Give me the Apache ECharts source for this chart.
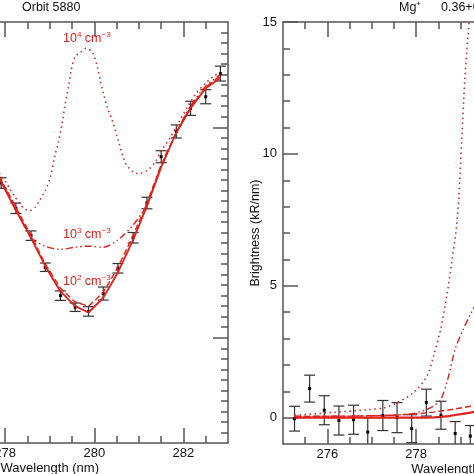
<!DOCTYPE html>
<html lang="en">
<head>
    <meta charset="UTF-8">
    <title>Orbit 5880</title>
    <script src="https://cdn.jsdelivr.net/npm/echarts@6/dist/echarts.min.js"></script>
    <style>
        html, body { margin: 0; padding: 0; background: #fff; }
        #main { width: 474px; height: 474px; }
    </style>
</head>
<body>
<div id="main"></div>
<script>
    // left panel: observed spectrum (arbitrary units, axis labels are cut off)
    var leftObsWl = [277.91, 278.24, 278.58, 278.9, 279.24, 279.57, 279.87, 280.2, 280.53, 280.87, 281.18, 281.5, 281.84, 282.16, 282.5, 282.83];
    var leftObs = [24.7, 22.3, 19.7, 16.7, 14.0, 12.9, 12.5, 14.2, 16.6, 19.5, 22.8, 27.2, 29.6, 31.8, 32.9, 35.1];
    var leftErr = [0.5, 0.5, 0.45, 0.4, 0.45, 0.4, 0.45, 0.62, 0.45, 0.5, 0.55, 0.57, 0.62, 0.67, 0.67, 0.71];

    // left panel: models
    var leftModelWl = [277.58, 277.91, 278.24, 278.58, 278.9, 279.24, 279.57, 279.87, 280.2, 280.53, 280.87, 281.18, 281.5, 281.84, 282.16, 282.5, 282.83];
    var leftFit = [27.4, 24.8, 22.1, 19.5, 16.8, 14.4, 13.0, 12.4, 13.8, 16.2, 19.3, 22.5, 26.2, 29.5, 31.8, 33.7, 34.7];
    var left1e2 = [27.6, 25.0, 22.4, 19.7, 17.0, 14.7, 13.4, 13.0, 14.3, 16.7, 19.7, 22.8, 26.4, 29.5, 31.9, 33.8, 34.9];
    var left1e3 = [27.5, 24.9, 22.3, 19.5, 18.7, 18.4, 18.6, 18.7, 18.6, 19.3, 20.7, 22.7, 26.4, 29.5, 32.0, 33.9, 35.0];
    var left1e4Wl = [277.58, 277.89, 278.0, 278.11, 278.22, 278.33, 278.45, 278.56, 278.67, 278.78, 278.9, 279.01, 279.12, 279.19, 279.28, 279.35, 279.42, 279.48, 279.57, 279.69, 279.82, 279.96, 280.07, 280.13, 280.2, 280.29, 280.4, 280.52, 280.7, 280.88, 280.97, 281.19, 281.37, 281.48, 281.7, 281.9, 282.1, 282.3, 282.5, 282.7, 282.83];
    var left1e4 = [27.1, 25.5, 24.9, 24.1, 23.4, 22.7, 22.2, 22.1, 22.4, 23.1, 24.0, 25.2, 27.4, 28.5, 30.4, 32.3, 33.8, 35.4, 36.7, 37.1, 37.5, 37.1, 35.7, 34.5, 33.3, 31.9, 30.7, 29.0, 26.6, 25.7, 25.6, 25.9, 26.7, 27.6, 29.0, 30.5, 32.0, 33.3, 34.2, 34.9, 35.2];

    // right panel: Mg+ (kR/nm)
    var rightObsWl = [275.26, 275.6, 275.93, 276.26, 276.59, 276.91, 277.25, 277.57, 277.9, 278.23, 278.56, 278.88, 279.22];
    var rightObs = [-0.04, 1.1, 0.28, -0.11, -0.08, -0.55, 0.08, 0.0, -0.42, 0.57, 0.09, -0.6, -0.7];
    var rightErr = [0.47, 0.51, 0.55, 0.55, 0.55, 0.55, 0.57, 0.57, 0.53, 0.51, 0.53, 0.45, 0.4];

    var rightModelWl = [275.26, 275.93, 276.59, 277.25, 277.57, 277.9, 278.07, 278.23, 278.4, 278.56, 278.72, 278.88, 279.05, 279.22, 279.4];
    var rightFit = [0, 0, 0, 0, 0, 0, 0, 0, 0.01, 0.03, 0.06, 0.1, 0.14, 0.19, 0.25];
    var right1e2 = [0.04, 0.05, 0.06, 0.08, 0.1, 0.13, 0.15, 0.18, 0.21, 0.25, 0.29, 0.33, 0.38, 0.43, 0.5];
    var right1e3 = [0.05, 0.05, 0.06, 0.08, 0.1, 0.15, 0.22, 0.3, 0.45, 0.7, 1.5, 2.6, 3.3, 3.9, 4.5];
    var right1e4Wl = [275.26, 275.4, 276.14, 276.9, 277.27, 277.55, 277.94, 278.24, 278.39, 278.55, 278.69, 278.8, 278.9, 278.96, 279.03, 279.1, 279.17, 279.24];
    var right1e4 = [0.1, 0.11, 0.2, 0.3, 0.37, 0.55, 0.95, 1.56, 2.32, 3.33, 4.6, 5.86, 7.1, 8.3, 10.6, 12.9, 14.5, 16];

    var xLabels = [276, 278, 280, 282];
    var yLabelsRight = [0, 5, 10, 15];
    var yMajorLeft = [10, 30];

    var FONT = 'Liberation Sans, Arial, sans-serif';
    var RED = '#e0201c';
    var DOTRED = '#c4302f';
    var AXIS = '#555';

    function pairs(xs, ys) { return xs.map(function (x, i) { return [x, ys[i]]; }); }
    function triples(xs, ys, es) { return xs.map(function (x, i) { return [x, ys[i], es[i]]; }); }

    function errItem(params, api) {
        var x = api.value(0), y = api.value(1), e = api.value(2);
        var p = api.coord([x, y]);
        var hi = api.coord([x, y + e]);
        var lo = api.coord([x, y - e]);
        var w = 5.5;
        var st = {stroke: '#333', lineWidth: 1.2};
        return {
            type: 'group',
            children: [
                {type: 'line', shape: {x1: p[0], y1: hi[1], x2: p[0], y2: lo[1]}, style: st},
                {type: 'line', shape: {x1: p[0] - w, y1: hi[1], x2: p[0] + w, y2: hi[1]}, style: st},
                {type: 'line', shape: {x1: p[0] - w, y1: lo[1], x2: p[0] + w, y2: lo[1]}, style: st},
                {type: 'rect', shape: {x: p[0] - 1.5, y: p[1] - 1.5, width: 3, height: 3}, style: {fill: '#000'}}
            ]
        };
    }

    function xAx(grid, pos, labels) {
        return {
            type: 'value', gridIndex: grid, position: pos,
            min: 275, max: 283, interval: 8,
            name: labels ? 'Wavelength (nm)' : '',
            nameLocation: 'middle', nameGap: 19, nameMoveOverlap: false,
            nameTextStyle: {fontFamily: FONT, fontSize: 13, color: '#111'},
            axisLine: {show: true, onZero: false, lineStyle: {color: AXIS, width: 1.5}},
            axisTick: {show: true, inside: true, length: 15, customValues: xLabels, lineStyle: {color: AXIS, width: 1.5}},
            minorTick: {show: true, splitNumber: 16, length: 7, lineStyle: {color: AXIS, width: 1.5}},
            axisLabel: {show: labels, customValues: xLabels, margin: 4, fontFamily: FONT, fontSize: 13, color: '#111'},
            splitLine: {show: false}
        };
    }

    function line(xi, yi, data, type, color, width, smooth) {
        return {
            type: 'line', xAxisIndex: xi, yAxisIndex: yi, data: data,
            showSymbol: false, smooth: smooth || false, z: 3,
            lineStyle: {color: color, width: width, type: type}
        };
    }

    var myChart = echarts.init(document.getElementById('main'), null, {renderer: 'canvas'});

    var sup = {fontFamily: FONT, fontSize: 8, lineHeight: 8, verticalAlign: 'top', fill: RED};
    var base = {fontFamily: FONT, fontSize: 12.5, lineHeight: 15, fill: RED};
    function densityLabel(exp, left, top) {
        return {
            type: 'text', left: left, top: top,
            style: {text: '{a|10}{s|' + exp + '}{a| cm}{s|\u22123}', rich: {a: base, s: sup}}
        };
    }

    var option = {
        animation: false,
        backgroundColor: '#fff',
        grid: [
            {left: -128.5, top: 22, width: 356.5, height: 421, containLabel: false, outerBoundsMode: 'none'},
            {left: 283, top: 22, width: 355, height: 422, containLabel: false, outerBoundsMode: 'none'}
        ],
        xAxis: [xAx(0, 'bottom', true), xAx(0, 'top', false), xAx(1, 'bottom', true), xAx(1, 'top', false)],
        yAxis: [
            {
                type: 'value', gridIndex: 0, position: 'right',
                min: 0, max: 40, interval: 40,
                axisLine: {show: true, lineStyle: {color: AXIS, width: 1.5}},
                axisTick: {show: true, inside: true, length: 15, customValues: yMajorLeft, lineStyle: {color: AXIS, width: 1.5}},
                minorTick: {show: true, splitNumber: 40, length: 7, lineStyle: {color: AXIS, width: 1.5}},
                axisLabel: {show: false},
                splitLine: {show: false}
            },
            {
                type: 'value', gridIndex: 1, position: 'left',
                min: -1, max: 15, interval: 16,
                name: 'Brightness (kR/nm)', nameLocation: 'middle', nameGap: 21, nameMoveOverlap: false,
                nameTextStyle: {fontFamily: FONT, fontSize: 12.5, color: '#111'},
                axisLine: {show: true, lineStyle: {color: AXIS, width: 1.5}},
                axisTick: {show: true, inside: true, length: 15, customValues: yLabelsRight, lineStyle: {color: AXIS, width: 1.5}},
                minorTick: {show: true, splitNumber: 16, length: 7, lineStyle: {color: AXIS, width: 1.5}},
                axisLabel: {show: true, customValues: yLabelsRight, margin: 6, fontFamily: FONT, fontSize: 13, color: '#111'},
                splitLine: {show: false}
            }
        ],
        graphic: [
            {type: 'text', left: 22, top: 1, style: {text: 'Orbit 5880', fontFamily: FONT, fontSize: 12.5, fill: '#111'}},
            {
                type: 'text', left: 399, top: 0,
                style: {
                    text: '{a|Mg}{s|+}',
                    rich: {
                        a: {fontFamily: FONT, fontSize: 12.5, lineHeight: 15, fill: '#111'},
                        s: {fontFamily: FONT, fontSize: 8, lineHeight: 8, verticalAlign: 'top', fill: '#111'}
                    }
                }
            },
            {type: 'text', left: 441, top: 1, style: {text: '0.36+0.05', fontFamily: FONT, fontSize: 12.5, fill: '#111'}},
            densityLabel('4', 63, 31),
            densityLabel('3', 63, 227),
            densityLabel('2', 63, 274)
        ],
        series: [
            {type: 'custom', xAxisIndex: 0, yAxisIndex: 0, renderItem: errItem, clip: true, z: 2,
                data: triples(leftObsWl, leftObs, leftErr)},
            line(0, 0, pairs(leftModelWl, leftFit), 'solid', RED, 1.8),
            line(0, 0, pairs(leftModelWl, left1e2), [6, 3], RED, 1.4),
            line(0, 0, pairs(leftModelWl, left1e3), [7, 3, 1.5, 3, 1.5, 3], RED, 1.4, 0.3),
            line(0, 0, pairs(left1e4Wl, left1e4), [1.5, 3.5], DOTRED, 1.6, 0.3),

            {type: 'custom', xAxisIndex: 2, yAxisIndex: 1, renderItem: errItem, clip: true, z: 2,
                data: triples(rightObsWl, rightObs, rightErr)},
            line(2, 1, pairs(rightModelWl, rightFit), 'solid', RED, 2.2),
            line(2, 1, pairs(rightModelWl, right1e2), [6, 3], RED, 1.4),
            line(2, 1, pairs(rightModelWl, right1e3), [7, 3, 1.5, 3, 1.5, 3], RED, 1.4, 0.3),
            line(2, 1, pairs(right1e4Wl, right1e4), [1.5, 3.5], DOTRED, 1.6, 0.3)
        ]
    };

    myChart.setOption(option);
</script>
</body>
</html>
